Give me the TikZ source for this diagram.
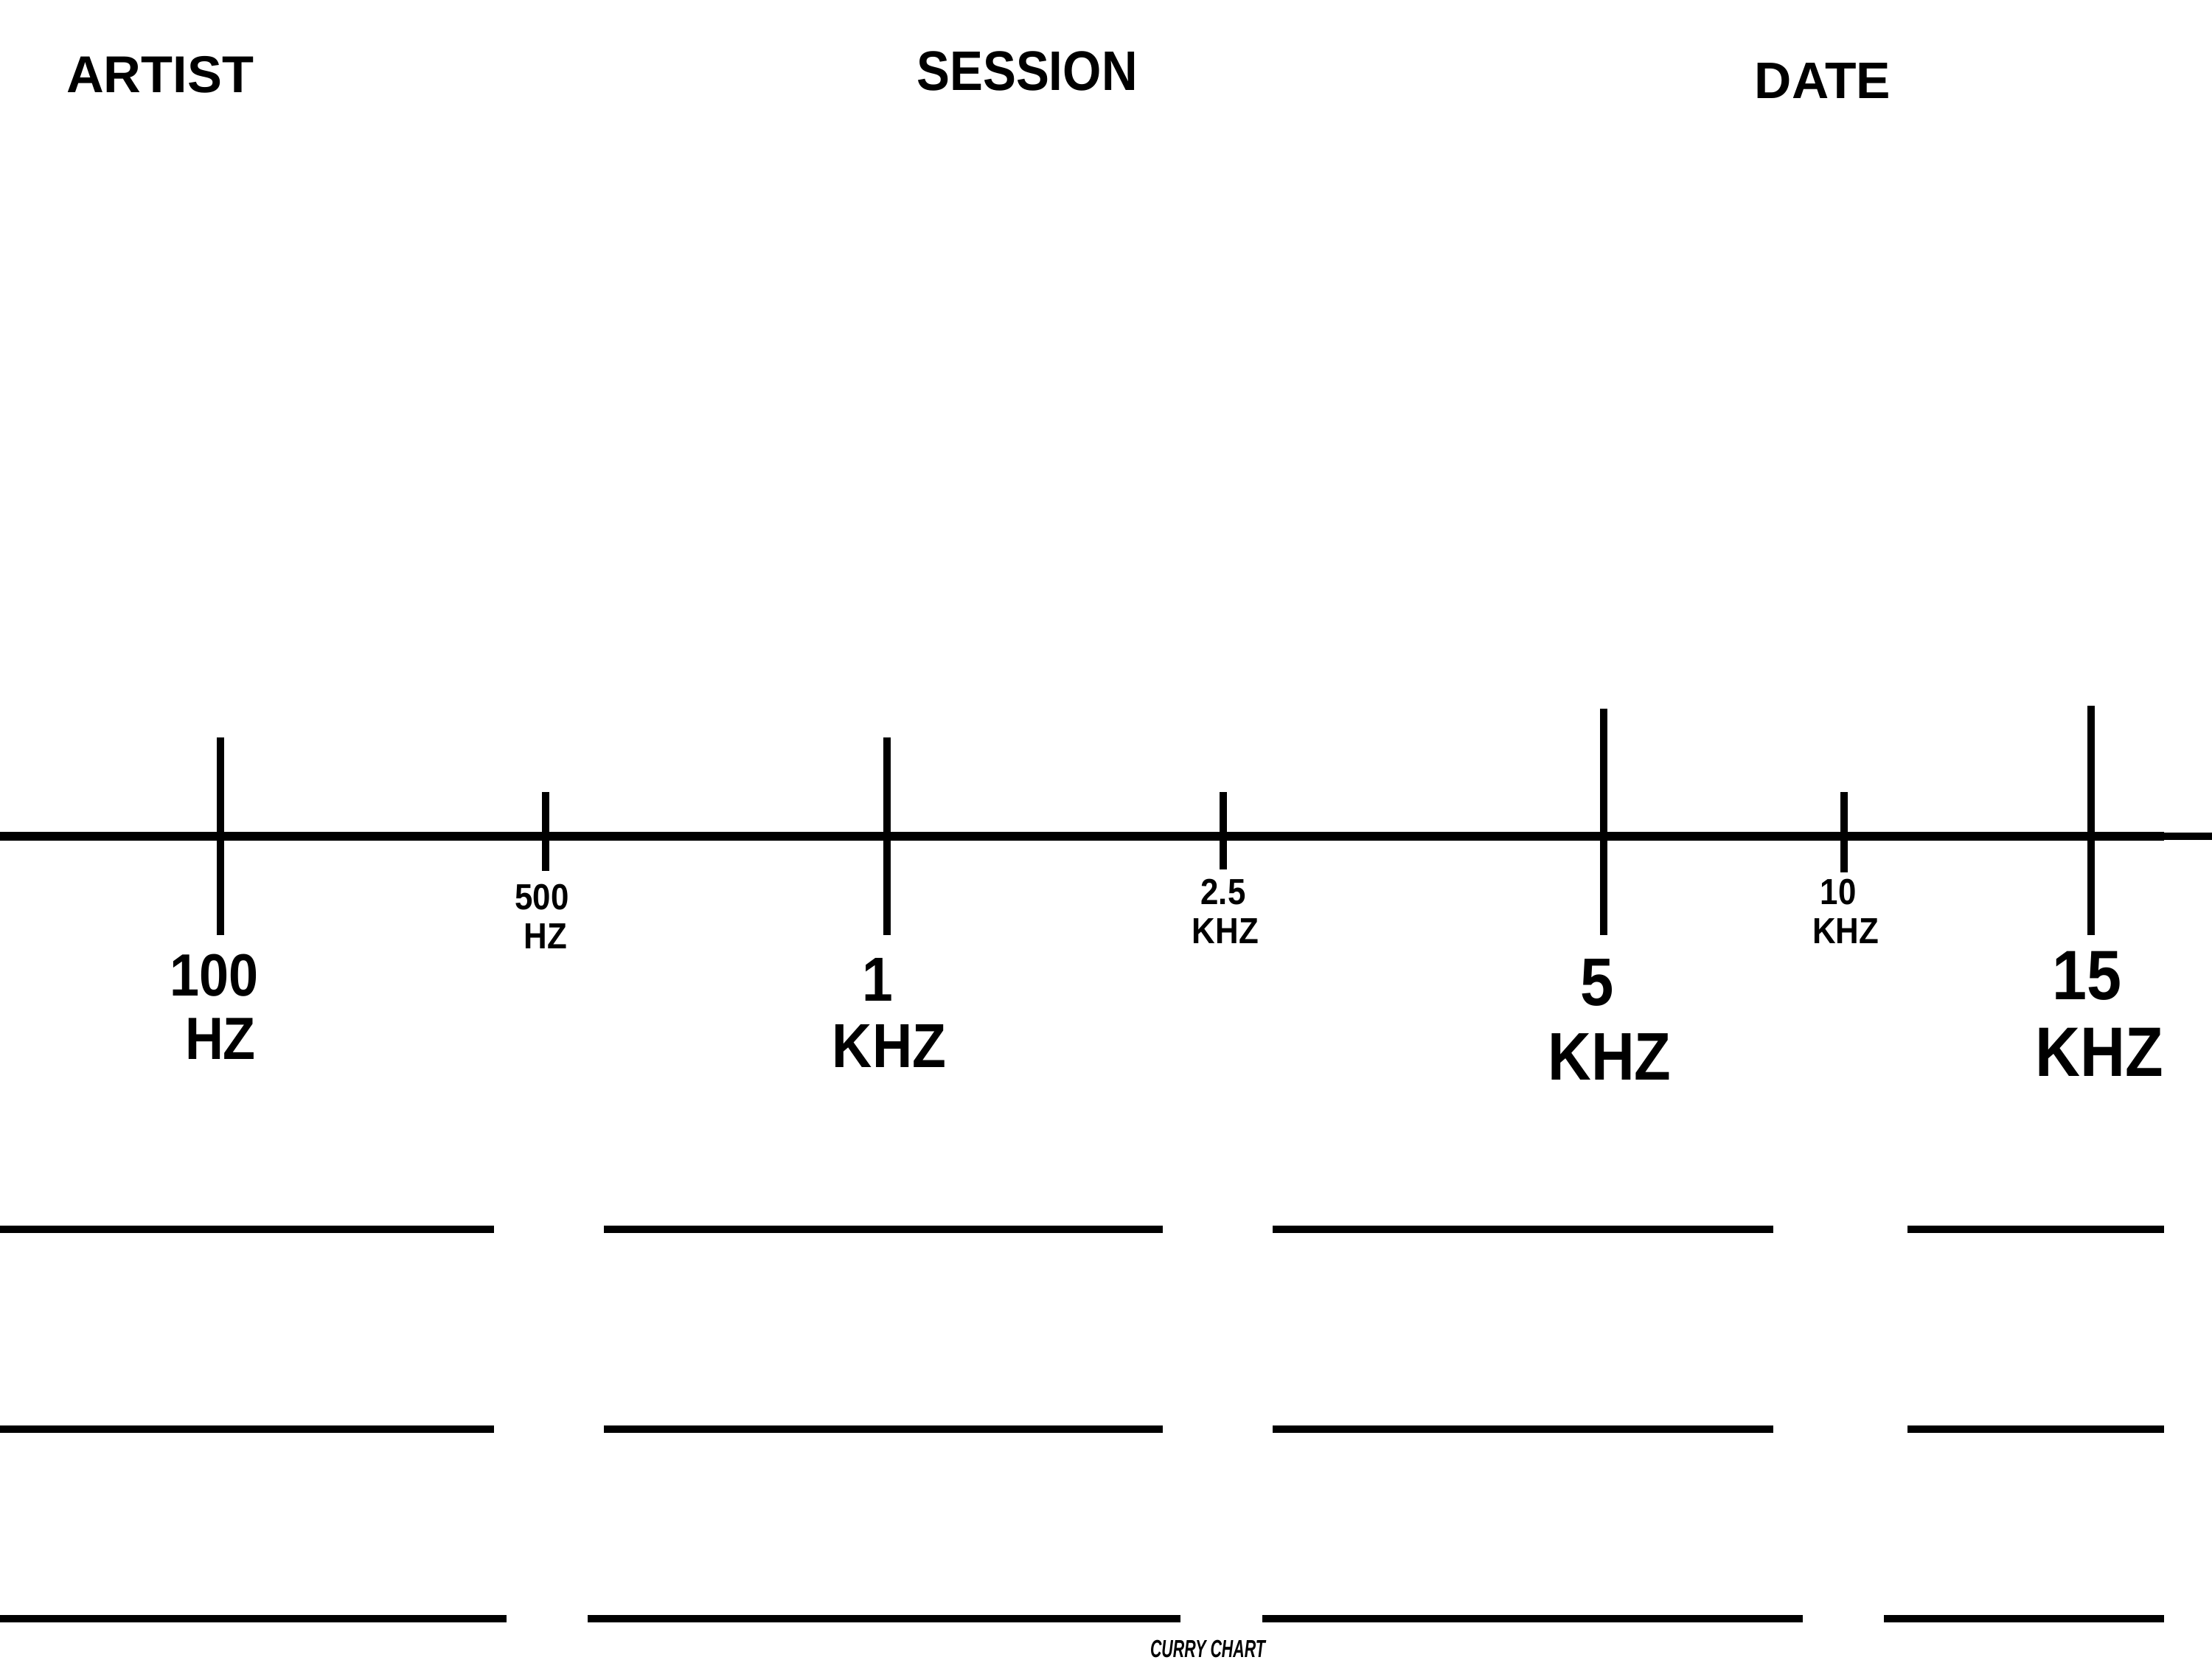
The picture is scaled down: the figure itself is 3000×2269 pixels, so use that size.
\documentclass[tikz,border=0pt]{standalone}
\usepackage{fontspec}
\setmainfont{Liberation Sans}
\newfontfamily\lblfont{Liberation Sans}[FakeStretch=0.89]
\newfontfamily\brandfont{Liberation Sans}[FakeStretch=0.64]
\tikzset{
  rule/.style={black,line width=3pt},
  tick/.style={black,line width=2.75pt},
  lbl/.style={inner sep=0pt,anchor=base,font=\lblfont\bfseries\fontsize{#1}{#1}\selectfont},
  heading/.style={inner sep=0pt,anchor=base,font=\bfseries\fontsize{#1}{#1}\selectfont}
}
\begin{document}
\begin{tikzpicture}[x=0.01cm,y=-0.01cm]
\useasboundingbox (0,0) rectangle (3000,2269);

% header
\node[heading=20pt](artist) at (217,125) {ARTIST};
\node[lbl=21.5pt](session) at (1393,122) {SESSION};
\node[heading=19.8pt](date) at (2472,133) {DATE};

% frequency axis
\draw[rule,line width=3.3pt] (0,1134) -- (2935,1134);
\draw[black,line width=2.7pt] (2935,1134) -- (3000,1134);
\foreach\x/\ytop/\ybot in {299/1000/1268,740/1074/1181,1203/1000/1268,1659/1074/1179,2175/961/1268,2501/1074/1183,2836/957/1268}
\draw[tick] (\x,\ytop) -- (\x,\ybot);

% frequency labels
\foreach\nm/\x/\y/\size/\txt in {a/291/1350/23pt/100,b/299/1436/23pt/HZ,c/735/1233/14pt/500,d/740/1286/14pt/HZ,
  e/1190/1357/24pt/1,f/1206/1447/24pt/KHZ,g/1659/1226/14pt/2.5,h/1662/1279/14pt/KHZ,
  i/2166/1363/26pt/5,j/2183/1464/26pt/KHZ,k/2493/1226/14pt/10,l/2503/1279/14pt/KHZ,
  m/2830/1355/27pt/15,n/2847/1459/27pt/KHZ}
\node[lbl=\size](freq\nm) at (\x,\y) {\txt};

% note rules
\foreach\y in {1667,1938}
\foreach\xa/\xb in {0/670,819/1577,1726/2405,2587/2935}
\draw[rule] (\xa,\y) -- (\xb,\y);
\foreach\xa/\xb in {0/687,797/1601,1712/2445,2555/2935}
\draw[rule] (\xa,2195) -- (\xb,2195);

\node[inner sep=0pt,anchor=base,font=\brandfont\bfseries\itshape\fontsize{9.5pt}{9.5pt}\selectfont](brand) at (1638,2247) {CURRY CHART};
\end{tikzpicture}
\end{document}
